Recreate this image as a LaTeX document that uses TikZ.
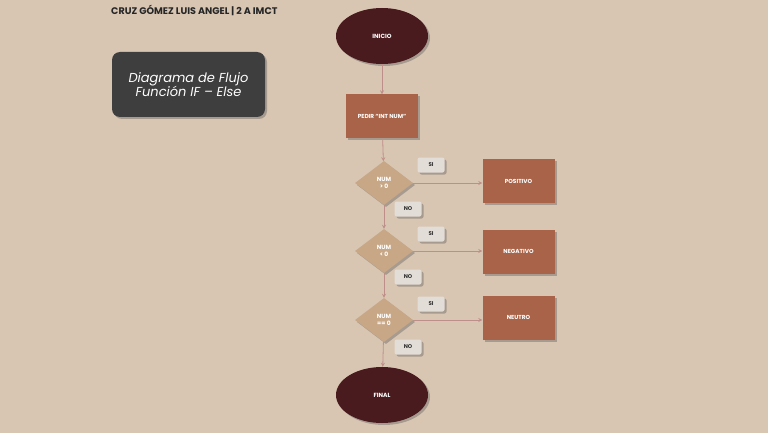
\documentclass[tikz,border=0pt]{standalone}
\usepackage{fontspec}
\setmainfont{Poppins}
\usetikzlibrary{shapes.geometric, shadows}

\definecolor{fondo}{RGB}{216,198,179}
\definecolor{vino}{RGB}{74,27,30}
\definecolor{oxido}{RGB}{168,99,72}
\definecolor{arena}{RGB}{199,167,134}
\definecolor{pizarra}{RGB}{62,62,62}
\definecolor{etiq}{RGB}{226,221,214}
\definecolor{flecha}{RGB}{190,142,136}

\tikzset{
	sombra/.style={drop shadow={shadow xshift=2pt, shadow yshift=-2pt, opacity=0.35, fill=black!70}},
	terminal/.style={ellipse, fill=vino, text=white, minimum width=92pt, minimum height=56pt, inner sep=0pt, font=\bfseries\fontsize{6}{7}\selectfont, sombra},
	proceso/.style={rectangle, fill=oxido, text=white, minimum width=72pt, minimum height=44pt, inner sep=0pt, font=\bfseries\fontsize{5.8}{7}\selectfont, sombra},
	decision/.style={diamond, fill=arena, text=white, minimum width=58pt, minimum height=44pt, inner sep=0pt, align=center, font=\bfseries\fontsize{6}{7.5}\selectfont, sombra},
	rama/.style={rectangle, rounded corners=2pt, fill=etiq, text=black!80, minimum width=27pt, minimum height=15pt, inner sep=0pt, font=\bfseries\fontsize{5.5}{6.5}\selectfont, sombra},
	liga/.style={draw=flecha, line width=0.8pt, -stealth},
}

\begin{document}
\begin{tikzpicture}[x=1pt, y=-1pt]
	\fill[fondo] (0,0) rectangle (768,433);
	\useasboundingbox (0,0) rectangle (768,433);

	\node[anchor=west, inner sep=0pt, font=\bfseries\fontsize{9.6}{11}\selectfont, text=black!85] (autor) at (111,10) {CRUZ GÓMEZ LUIS ANGEL | 2 A IMCT};

	\node[rectangle, rounded corners=8pt, fill=pizarra, text=white, minimum width=153pt, minimum height=65pt, align=center, font=\itshape\fontsize{13}{14}\selectfont, sombra] (titulo) at (188.5,84.5) {Diagrama de Flujo\\Función IF -- Else};

	% flujo principal
	\node[terminal] (inicio) at (382,36) {INICIO};
	\node[proceso] (pedir) at (382,116.5) {PEDIR “INT NUM”};
	\node[decision] (d1) at (384,183) {NUM\\> 0};
	\node[decision] (d2) at (384,251) {NUM\\< 0};
	\node[decision] (d3) at (384,320) {NUM\\== 0};
	\node[terminal] (final) at (382,395) {FINAL};

	% salidas
	\node[proceso] (pos) at (518.5,181) {POSITIVO};
	\node[proceso] (neg) at (518.5,251.5) {NEGATIVO};
	\node[proceso] (neu) at (518.5,317.5) {NEUTRO};

	% etiquetas
	\node[rama] (si1) at (431,165) {SI};
	\node[rama] (si2) at (431,234) {SI};
	\node[rama] (si3) at (431,304) {SI};
	\node[rama] (no1) at (408,209) {NO};
	\node[rama] (no2) at (408,277) {NO};
	\node[rama] (no3) at (408,347) {NO};

	\begin{scope}[liga]
	\draw (inicio) -- (pedir);
	\draw (pedir) -- (d1);
	\draw (d1) -- (d2);
	\draw (d2) -- (d3);
	\draw (d3) -- (final);
	\draw (d1.east) -- (d1.east -| pos.west);
	\draw (d2.east) -- (d2.east -| neg.west);
	\draw (d3.east) -- (d3.east -| neu.west);
	\end{scope}
\end{tikzpicture}
\end{document}
